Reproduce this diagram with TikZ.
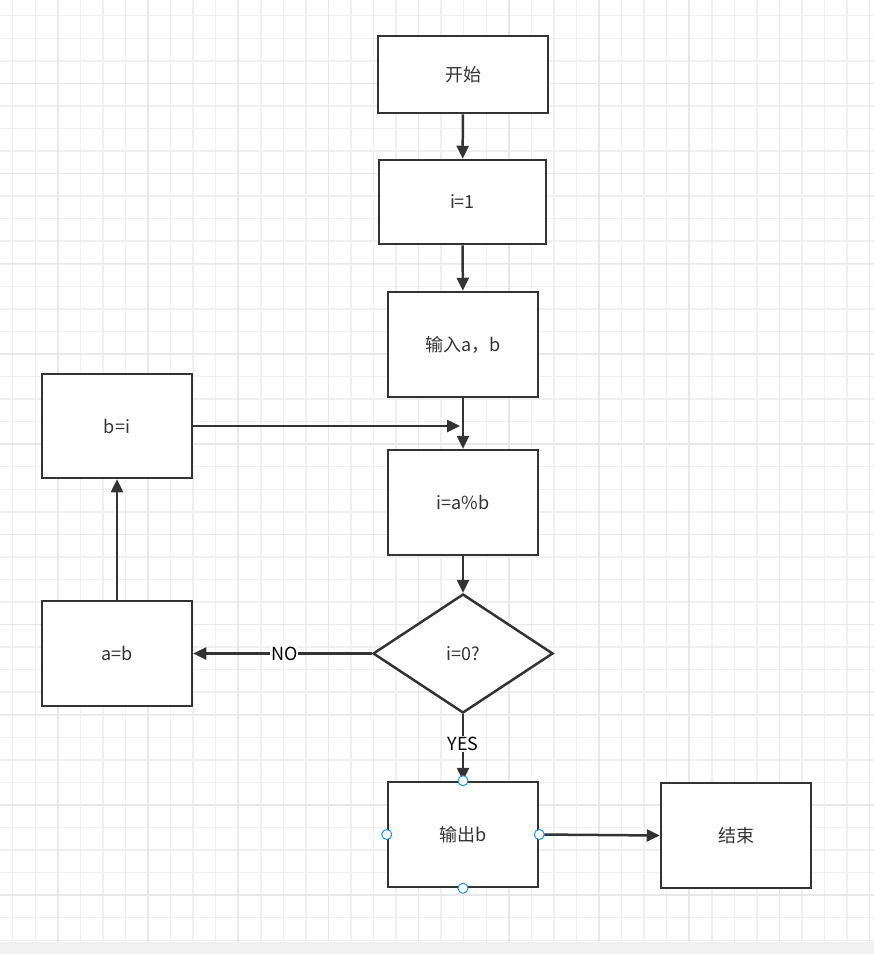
\documentclass[tikz,border=0pt]{standalone}
\usepackage{fontspec}
\setmainfont{Noto Sans CJK SC}
\usetikzlibrary{shapes.geometric,arrows.meta}
\definecolor{ln}{HTML}{333333}
\definecolor{gmin}{HTML}{F0F0F0}
\definecolor{gmaj}{HTML}{E8E8E8}
\definecolor{hb}{HTML}{1E90FF}
\begin{document}
\begin{tikzpicture}[x=1pt,y=-1pt,
  box/.style={draw=ln,line width=2.5pt,fill=white,minimum width=150pt,minimum height=104pt,font=\fontsize{18}{21}\selectfont,text=ln,inner sep=0pt},
  arr/.style={draw=ln,line width=2.5pt,-{Triangle[length=13pt,width=12pt]}},
  lbl/.style={fill=white,inner sep=1pt,font=\fontsize{18}{21}\selectfont,text=black},
  hd/.style={circle,draw=hb,fill=white,line width=1pt,minimum size=10pt,inner sep=0pt}]
\useasboundingbox (0,0) rectangle (874,954);
\fill[white] (0,0) rectangle (874,954);
\foreach \i in {0,...,38}{\draw[gmin,line width=1.5pt] (12.7+22.55*\i,0) -- (12.7+22.55*\i,942);}
\foreach \i in {0,...,41}{\draw[gmin,line width=1.5pt] (0,15.7+22.55*\i) -- (874,15.7+22.55*\i);}
\foreach \i in {0,...,9}{\draw[gmaj,line width=1.5pt] (57.8+90.2*\i,0) -- (57.8+90.2*\i,942);}
\foreach \i in {0,...,10}{\draw[gmaj,line width=1.5pt] (0,83.3+90.2*\i) -- (874,83.3+90.2*\i);}
\fill[gmin] (0,942) rectangle (874,954);
\node[box,minimum width=170pt,minimum height=77pt] (start) at (463,74.5) {开始};
\node[box,minimum width=167pt,minimum height=84pt] (i1) at (462.5,202) {i=1};
\node[box,minimum height=105pt] (in) at (463,344.5) {输入a，b};
\node[box] (bi) at (117,426) {b=i};
\node[box,minimum height=105pt] (mod) at (463,502.5) {i=a\%b};
\node[box,diamond,minimum width=180pt,minimum height=119pt,aspect=1.5] (dec) at (463,653.5) {i=0?};
\node[box,minimum height=105pt] (ab) at (117,653.5) {a=b};
\node[box,minimum height=105pt] (out) at (463,834.5) {输出b};
\node[box,minimum height=105pt] (end) at (736,835.5) {结束};
\coordinate (join) at (460,426);
\draw[arr] (start) -- (i1);
\draw[arr] (i1) -- (in);
\draw[arr] (in) -- (mod);
\draw[arr] (mod) -- (dec);
\draw[arr] (bi.east) -- (join);
\draw[arr] (dec.south) -- node[lbl,pos=0.45]{YES} (out.north);
\draw[arr] (dec.west) -- node[lbl,pos=0.49]{NO} (ab.east);
\draw[arr] (ab.north) -- (bi.south);
\draw[arr] (out.east) -- (end.west);
\node[hd] (h1) at (out.north) {};
\node[hd] (h2) at (out.south) {};
\node[hd] (h3) at (out.west) {};
\node[hd] (h4) at (out.east) {};
\end{tikzpicture}
\end{document}
